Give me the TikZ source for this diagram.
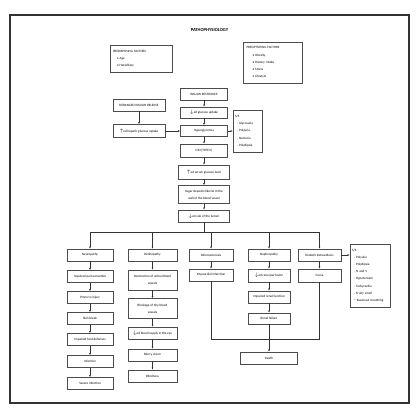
\documentclass[tikz,border=0pt]{standalone}
\usepackage{fontspec}
\setmainfont{Carlito}
\usetikzlibrary{positioning,arrows.meta,calc}

\begin{document}
\begin{tikzpicture}[
  x=1pt, y=-1pt,
  >={Latex[length=2.2pt,width=2pt]},
  font=\fontsize{3.3}{7.2}\selectfont,
  box/.style={draw=black!70, line width=0.5pt, fill=white, inner sep=1pt, align=center, minimum height=12pt},
  list/.style={box, align=left, inner sep=2.5pt},
  frame/.style={draw=black!80, line width=1.6pt, inner sep=0pt},
  arrow/.style={->, line width=0.5pt, draw=black!80},
  link/.style={line width=0.5pt, draw=black!80}
]
\useasboundingbox (0,0) rectangle (419,419);

% Outer frame and title
\node[frame, minimum width=399pt, minimum height=388pt] (frame) at (209.5,209) {};
\node[font=\fontsize{4.6}{5}\selectfont\bfseries] (title) at (209.5,30) {PATHOPHYSIOLOGY};

% Factors
\node[list, inner sep=3pt, text width=56pt, minimum height=27pt] (pred) at (141,58.5) {%
  PREDISPOSING FACTORS\\
  \hspace*{4pt}\textbullet\ Age\\
  \hspace*{4pt}\textbullet\ Hereditary};
\node[list, inner sep=3.5pt, text width=52pt, minimum height=41pt] (prec) at (272.5,62.5) {%
  PRECIPITATING FACTORS\\
  \hspace*{6pt}\textbullet\ Obesity\\
  \hspace*{6pt}\textbullet\ Dietary intake\\
  \hspace*{6pt}\textbullet\ Stress\\
  \hspace*{6pt}\textbullet\ Lifestyle};

% Main trunk
\node[box, minimum width=47pt] (ins) at (204,94) {INSULIN RESISTANCE};
\node[box, minimum width=47pt, minimum height=11pt] (dec) at (204,112.5) {$\downarrow$ed glucose uptake};
\node[box, minimum width=47pt, minimum height=11pt] (hyp) at (204,131) {Hyperglycemia};
\node[box, minimum width=47pt, minimum height=13pt] (dm) at (204,150.5) {DM (TYPE II)};
\node[box, minimum width=51pt, minimum height=14pt] (ser) at (204,172) {$\uparrow$ed serum glucose level};
\node[box, minimum width=51pt, minimum height=18pt] (sug) at (204,194.5) {Sugar deposits like fat in the\\wall of the blood vessel};
\node[box, minimum width=51pt] (lum) at (204,216) {$\downarrow$ed size of the lumen};

% Left side
\node[box, minimum width=52pt] (der) at (139,105) {DERANGED INSULIN RELEASE};
\node[box, minimum width=52pt, minimum height=13pt] (hep) at (139,131) {$\uparrow$ed hepatic glucose uptake};

% S/S of hyperglycemia
\node[list, inner sep=2pt, text width=25pt, minimum height=42pt] (ss1) at (247.5,131) {%
  S/S\\
  \hspace*{2pt}- Glycosuria\\
  \hspace*{2pt}- Polyuria\\
  \hspace*{2pt}- Nocturia\\
  \hspace*{2pt}- Polydipsia};

% Complications
\node[box, minimum width=46pt] (neu) at (90,255) {Neuropathy};
\node[box, minimum width=46pt] (pain) at (90,276.5) {Impaired pain sensation};
\node[box, minimum width=46pt] (prone) at (90,297.5) {Prone to injury};
\node[box, minimum width=46pt] (skin) at (90,318.5) {Skin break};
\node[box, minimum width=46pt] (host) at (90,339.5) {Impaired host defenses};
\node[box, minimum width=46pt] (inf) at (90,361.5) {Infection};
\node[box, minimum width=46pt] (sev) at (90,383.5) {Severe infection};

\node[box, minimum width=49pt] (ret) at (152.5,255) {Retinopathy};
\node[box, minimum width=49pt, minimum height=20pt] (des) at (152.5,280) {Destruction of retinal blood\\vessels};
\node[box, minimum width=49pt, minimum height=20pt] (blk) at (152.5,308.5) {Blockage of tiny blood\\vessels};
\node[box, minimum width=49pt] (eye) at (152.5,333) {$\downarrow$ed blood supply in the eye};
\node[box, minimum width=49pt] (blur) at (152.5,355) {Blurry vision};
\node[box, minimum width=49pt] (blind) at (152.5,376) {Blindness};

\node[box, minimum width=44pt] (ath) at (211,255) {Atherosclerosis};
\node[box, minimum width=44pt] (myo) at (211,275) {Myocardial infarction};

\node[box, minimum width=42pt] (nep) at (269,255) {Nephropathy};
\node[box, minimum width=42pt, minimum height=13pt] (perf) at (269,275.5) {$\downarrow$ed renal perfusion};
\node[box, minimum width=42pt] (func) at (269,297) {Impaired renal function};
\node[box, minimum width=42pt, minimum height=11pt] (fail) at (269,318.5) {Renal failure};

\node[box, minimum width=43pt] (dka) at (319.5,255) {Diabetic ketoacidosis};
\node[box, minimum width=43pt, minimum height=13pt] (coma) at (319.5,275.5) {Coma};

% S/S of DKA
\node[list, inner sep=2pt, text width=36pt, minimum height=63pt] (ss2) at (370,275.5) {%
  S/S\\
  \hspace*{2pt}- Polyuria\\
  \hspace*{2pt}- Polydipsia\\
  \hspace*{2pt}- N and V\\
  \hspace*{2pt}- Hypotension\\
  \hspace*{2pt}- Tachycardia\\
  \hspace*{2pt}- Fruity smell\\
  \hspace*{2pt}* Kussmaul breathing};

\node[box, minimum width=57pt] (death) at (269,358) {Death};

% Trunk arrows
\draw[arrow] (ins) -- (dec);
\draw[arrow] (dec) -- (hyp);
\draw[arrow] (der) -- (hep);
\draw[arrow] (hep) -- (hyp);
\draw[arrow] (hyp.east) -- (hyp.east -| ss1.west);
\draw[arrow] (hyp) -- (dm);
\draw[arrow] (dm) -- (ser);
\draw[arrow] (ser) -- (sug);
\draw[arrow] (sug) -- (lum);

% Branch bus
\coordinate (bus) at (204,232);
\draw[link] (lum.south) -- (bus);
\draw[link] (neu.north |- bus) -- (dka.north |- bus);
\draw[arrow] (neu.north |- bus) -- (neu.north);
\draw[arrow] (ret.north |- bus) -- (ret.north);
\draw[arrow] (ath.north |- bus) -- (ath.north);
\draw[arrow] (nep.north |- bus) -- (nep.north);
\draw[arrow] (dka.north |- bus) -- (dka.north);

% Columns
\draw[arrow] (neu) -- (pain);
\draw[arrow] (pain) -- (prone);
\draw[arrow] (prone) -- (skin);
\draw[arrow] (skin) -- (host);
\draw[arrow] (host) -- (inf);
\draw[arrow] (inf) -- (sev);

\draw[arrow] (ret) -- (des);
\draw[arrow] (des) -- (blk);
\draw[arrow] (blk) -- (eye);
\draw[arrow] (eye) -- (blur);
\draw[arrow] (blur) -- (blind);

\draw[arrow] (ath) -- (myo);

\draw[arrow] (nep) -- (perf);
\draw[arrow] (perf) -- (func);
\draw[arrow] (func) -- (fail);

\draw[arrow] (dka) -- (coma);
\draw[arrow] (dka.east) -- (dka.east -| ss2.west);

% Merge to death
\coordinate (mrg) at (269,339);
\draw[link] (myo.south) -- (myo.south |- mrg) -- (coma.south |- mrg) -- (coma.south);
\draw[arrow] (fail) -- (death);

\end{tikzpicture}
\end{document}
